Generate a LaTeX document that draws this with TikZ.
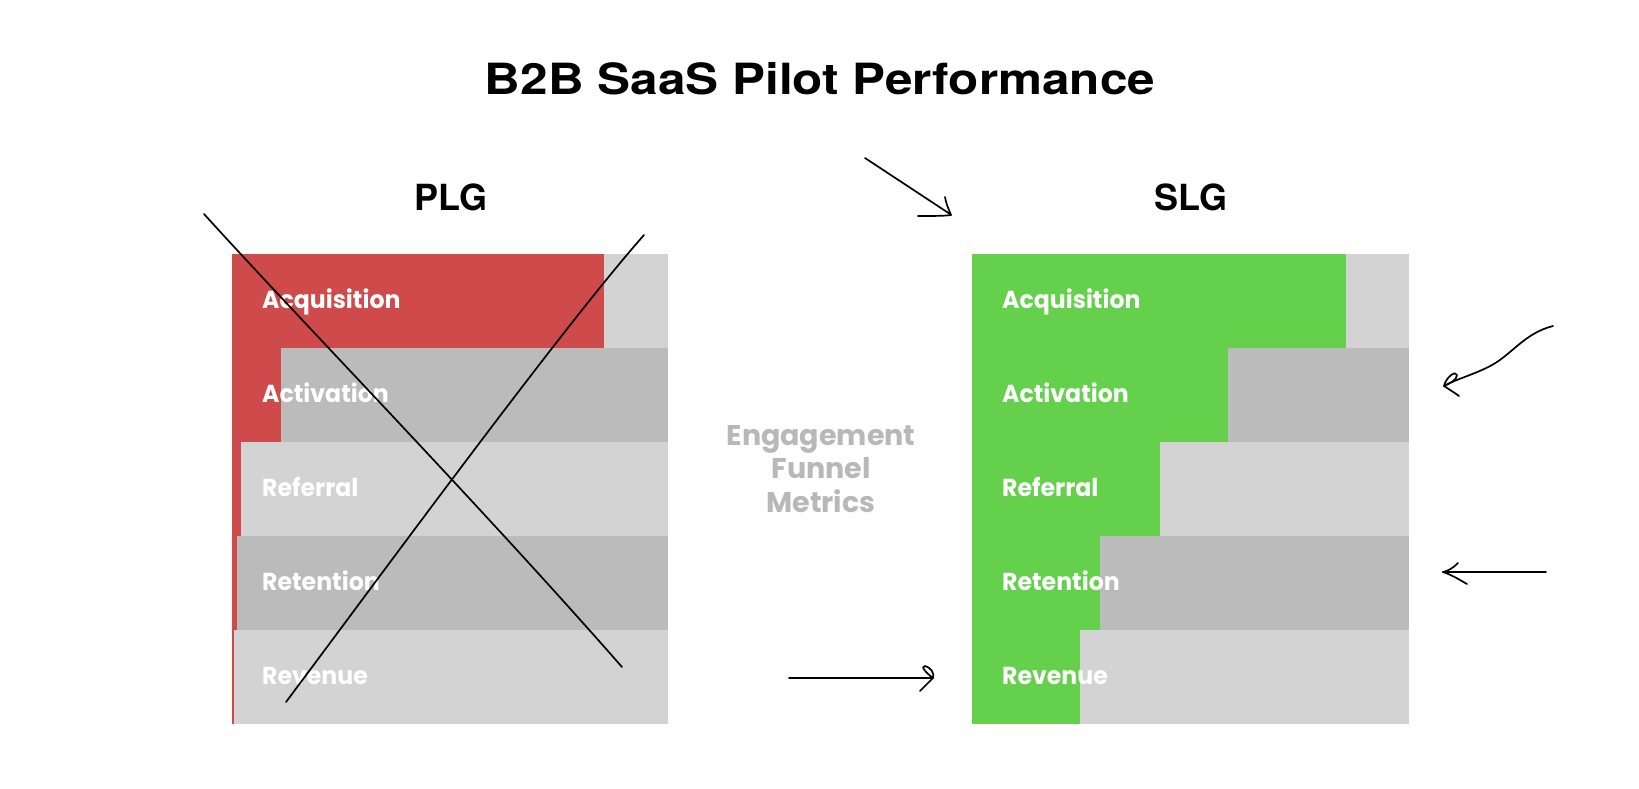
\documentclass[tikz,border=0pt]{standalone}
\usepackage{fontspec}
\setmainfont{TeX Gyre Heros}
\newfontfamily\lblfont{Poppins}
\definecolor{plgred}{HTML}{CF4A4A}
\definecolor{slggreen}{HTML}{64D04B}
\definecolor{lgray}{HTML}{D3D3D3}
\definecolor{dgray}{HTML}{BBBBBB}
\definecolor{enggray}{HTML}{B8B8B8}
\newcommand{\narrow}[1]{\scalebox{0.96}[1]{#1}}
\tikzset{
  rowlabel/.style={anchor=base west, inner sep=0pt, text=white, font=\lblfont\bfseries\fontsize{24.6}{30}\selectfont},
  heading/.style={anchor=base, inner sep=0pt, font=\bfseries\fontsize{36}{40}\selectfont},
  sketch/.style={draw=black, line width=1.7pt, line cap=round, line join=round}
}
\begin{document}
\begin{tikzpicture}[x=1pt,y=-1pt]
\useasboundingbox (0,0) rectangle (1639,788);
\fill[white] (0,0) rectangle (1639,788);

% title
\node[anchor=base, inner sep=0pt, font=\bfseries\fontsize{43}{48}\selectfont] (title) at (820,94) {\scalebox{1.15}[1]{B2B SaaS Pilot Performance}};
\node[heading] (plg) at (451,210) {PLG};
\node[heading] (slg) at (1191,210) {SLG};

% PLG panel
\fill[lgray] (232,254) rectangle (668,348);
\fill[dgray] (232,348) rectangle (668,442);
\fill[lgray] (232,442) rectangle (668,536);
\fill[dgray] (232,536) rectangle (668,630);
\fill[lgray] (232,630) rectangle (668,724);
\fill[plgred] (232,254) rectangle (604,348);
\fill[plgred] (232,348) rectangle (281,442);
\fill[plgred] (232,442) rectangle (241,536);
\fill[plgred] (232,536) rectangle (237,630);
\fill[plgred] (232,630) rectangle (233.5,724);

% SLG panel
\fill[lgray] (972,254) rectangle (1409,348);
\fill[dgray] (972,348) rectangle (1409,442);
\fill[lgray] (972,442) rectangle (1409,536);
\fill[dgray] (972,536) rectangle (1409,630);
\fill[lgray] (972,630) rectangle (1409,724);
\fill[slggreen] (972,254) rectangle (1346,348);
\fill[slggreen] (972,348) rectangle (1228,442);
\fill[slggreen] (972,442) rectangle (1160,536);
\fill[slggreen] (972,536) rectangle (1100,630);
\fill[slggreen] (972,630) rectangle (1080,724);

% labels
\node[rowlabel] (pa) at (262,308) {\narrow{Acquisition}};
\node[rowlabel] (pb) at (262,402) {\narrow{Activation}};
\node[rowlabel] (pc) at (262,496) {\narrow{Referral}};
\node[rowlabel] (pd) at (262,590) {\narrow{Retention}};
\node[rowlabel] (pe) at (262,684) {\narrow{Revenue}};
\node[rowlabel] (sa) at (1002,308) {\narrow{Acquisition}};
\node[rowlabel] (sb) at (1002,402) {\narrow{Activation}};
\node[rowlabel] (sc) at (1002,496) {\narrow{Referral}};
\node[rowlabel] (sd) at (1002,590) {\narrow{Retention}};
\node[rowlabel] (se) at (1002,684) {\narrow{Revenue}};

% middle text
\node[align=center, inner sep=0pt, text=enggray, font=\lblfont\bfseries\fontsize{28.5}{33.5}\selectfont] (eng) at (821,469) {Engagement\\Funnel\\Metrics};

% cross over PLG
\draw[sketch] (204,214) .. controls (300,320) and (480,505) .. (622,667);
\draw[sketch] (644,235) .. controls (560,330) and (370,590) .. (286,702);

% arrow top middle
\draw[sketch] (865,158) -- (950,214);
\draw[sketch] (918,216) .. controls (932,216) and (944,216) .. (951,215) .. controls (948,208) and (946,203) .. (945,197);

% curvy arrow right top
\draw[sketch] (1553,326) .. controls (1525,333) and (1512,354) .. (1492,365) .. controls (1476,374) and (1456,379) .. (1444,386);
\draw[sketch] (1444,386) .. controls (1446,377) and (1456,370) .. (1457,375) .. controls (1457,380) and (1449,384) .. (1444,386) .. controls (1450,390) and (1455,393) .. (1459,396);

% arrow right bottom
\draw[sketch] (1546,572) -- (1443,572);
\draw[sketch] (1458,563) .. controls (1453,568) and (1448,571) .. (1443,572) .. controls (1452,575) and (1460,580) .. (1467,584);

% arrow bottom middle
\draw[sketch] (789,678) -- (933,678);
\draw[sketch] (933,678) .. controls (926,673) and (920,666) .. (925,666) .. controls (930,667) and (935,673) .. (933,678) .. controls (928,683) and (924,687) .. (920,691);
\end{tikzpicture}
\end{document}
